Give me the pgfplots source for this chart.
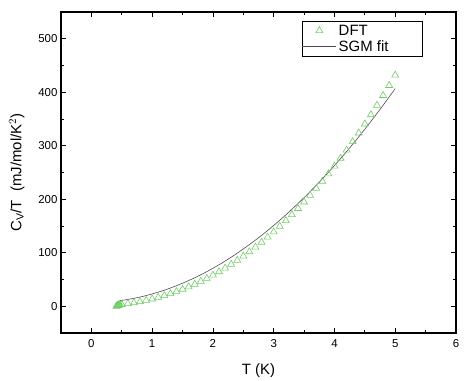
\documentclass[border=0pt]{standalone}
\usepackage{pgfplots}
\pgfplotsset{compat=1.18}
\usepackage{fontspec}
\setmainfont{Liberation Sans}
\definecolor{dftgreen}{RGB}{110,205,100}
\definecolor{fitgray}{RGB}{85,70,85}
\pgfplotsset{
  dftlegend/.style={legend image code/.code={\draw[##1] plot coordinates {(17bp,0bp)}; \path (0bp,0bp) (34bp,0bp);}},
  fitlegend/.style={legend image code/.code={\draw[##1] (0bp,0bp) -- (34bp,0bp);}},
}
\begin{document}
\begin{tikzpicture}
\begin{axis}[
  scale only axis, width=395bp, height=321bp,
  xmin=-0.5, xmax=6, ymin=-50, ymax=550,
  xtick={0,1,2,3,4,5,6}, ytick={0,100,200,300,400,500},
  minor x tick num=1, minor y tick num=1,
  tick align=inside, major tick length=5bp, minor tick length=3bp,
  every tick/.style={black, line width=0.8pt},
  axis line style={line width=1.1pt},
  /pgf/number format/assume math mode=true,
  tick label style={font=\fontsize{11.5}{13}\selectfont},
  xticklabel style={yshift=-3bp},
  label style={font=\fontsize{15}{17}\selectfont},
  xlabel={T (K)}, ylabel={C$_\mathrm{V}$/T\ \ (mJ/mol/K$^2$)},
  xlabel style={yshift=-9bp},
  ylabel style={yshift=7bp},
  legend style={at={(rel axis cs:0.916,0.972)}, anchor=north east,
    draw=black, line width=0.6pt, font=\fontsize{15}{17}\selectfont,
    inner xsep=0pt, inner ysep=1.5bp, row sep=0pt},
  legend cell align=left,
]
\addplot[only marks, mark=triangle, mark size=4bp, dftgreen, mark options={line width=0.6pt}, dftlegend]
coordinates {
(0.41,0.0)(0.42,0.6)(0.43,1.2)(0.44,1.8)(0.45,2.3)(0.46,2.7)(0.47,3.0)
(0.5,3.3)(0.6,4.8)(0.7,6.5)(0.8,8.6)(0.9,10.9)(1.0,13.6)
(1.1,16.6)(1.2,19.9)(1.3,23.5)(1.4,27.4)(1.5,31.7)(1.6,36.2)(1.7,41.2)(1.8,46.5)(1.9,52.1)(2.0,58.1)
(2.1,64.5)(2.2,71.2)(2.3,78.3)(2.4,85.8)(2.5,93.7)(2.6,101.9)(2.7,110.6)(2.8,119.6)(2.9,129.1)(3.0,139.0)
(3.1,149.3)(3.2,160.0)(3.3,171.2)(3.4,182.8)(3.5,194.8)(3.6,207.3)(3.7,220.2)(3.8,233.6)(3.9,247.5)(4.0,261.8)
(4.1,276.6)(4.2,291.9)(4.3,307.6)(4.4,323.9)(4.5,340.6)(4.6,357.9)(4.7,375.6)(4.8,393.9)(4.9,412.7)(5.0,432.0)
};
\addlegendentry{DFT}
\addplot[fitgray, line width=0.6pt, smooth, no marks, fitlegend]
coordinates {
(0.47,10.5)(0.5,11.0)(0.6,12.8)(0.7,14.8)(0.8,17.2)(0.9,20.0)(1.0,23.0)(1.2,30.0)(1.4,38.4)(1.6,48.0)(1.8,58.8)
(2.0,71.0)(2.2,84.4)(2.4,99.2)(2.6,115.2)(2.8,132.4)(3.0,151.0)(3.2,170.8)(3.4,192.0)(3.6,214.4)(3.8,238.0)
(4.0,263.0)(4.2,289.2)(4.4,316.8)(4.6,345.6)(4.8,375.6)(5.0,407.0)
};
\addlegendentry{SGM fit\rule{32bp}{0pt}}
\end{axis}
\useasboundingbox ([xshift=-61bp,yshift=-48bp]current axis.south west) rectangle ([xshift=18bp,yshift=12bp]current axis.north east);
\end{tikzpicture}
\end{document}
